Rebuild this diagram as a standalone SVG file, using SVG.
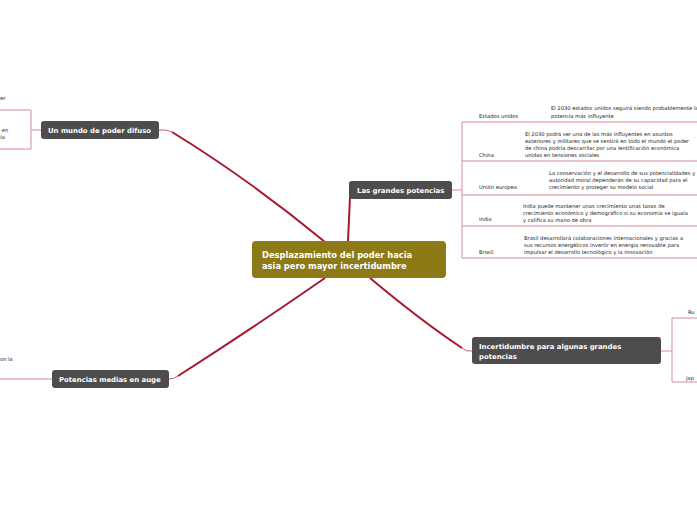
<svg xmlns="http://www.w3.org/2000/svg" width="697" height="520" viewBox="0 0 697 520">
<style>
.n{fill:#4d4d4d}
.nt{fill:#fff;font-family:Verdana,"DejaVu Sans",sans-serif;font-weight:bold;font-size:6.9px}
.s{font-family:Verdana,"DejaVu Sans",sans-serif;font-size:5.2px;fill:#222}
.l{fill:none;stroke:#d98a9a;stroke-width:1}
.m{fill:none;stroke:#a8182f;stroke-width:2}
.t{fill:none;stroke:#b23a50;stroke-width:0.8}
</style>
<rect width="697" height="520" fill="#fff"/>
<g id="connectors">
<path class="m" d="M325 242 Q250 180 172 132"/>
<path class="t" d="M172 132 Q166 129 159 130"/>
<path class="m" d="M348 241 L350 197"/>
<path class="m" d="M325 278 Q250 330 178 376"/>
<path class="t" d="M178 376 Q174 379 169 379"/>
<path class="m" d="M370 278 Q420 320 462 348"/>
<path class="t" d="M462 348 Q466 352 472 351"/>
<path class="l" d="M452 190 H462 M462 122 V258 M462 122 H697 M462 161 H697 M462 195 H697 M462 226 H697 M462 258 H697"/>
<path class="l" d="M41 130 H31 M31 110 V149 M0 110 H31 M0 149 H31"/>
<path class="l" d="M0 379 H52"/>
<path class="l" d="M661 351 H672 M672 318 V382 M672 318 H697 M672 382 H697"/>
</g>
<g id="center">
<rect x="252" y="241" width="194" height="37" rx="4" fill="#8b7a16"/>
<text class="nt" x="262" y="258" style="font-size:8.3px">Desplazamiento del poder hacia</text>
<text class="nt" x="262" y="269" style="font-size:8.3px">asia pero mayor incertidumbre</text>
</g>
<g id="grandes">
<rect class="n" x="349" y="181" width="103" height="18" rx="3"/>
<text class="nt" x="357" y="193">Las grandes potencias</text>
</g>
<g id="mundo">
<rect class="n" x="41" y="121" width="118" height="18" rx="3"/>
<text class="nt" x="48" y="133">Un mundo de poder difuso</text>
</g>
<g id="medias">
<rect class="n" x="52" y="370" width="117" height="18" rx="3"/>
<text class="nt" x="59" y="382">Potencias medias en auge</text>
</g>
<g id="incert">
<rect class="n" x="472" y="337" width="189" height="27" rx="3"/>
<text class="nt" x="479" y="349">Incertidumbre para algunas grandes</text>
<text class="nt" x="479" y="359">potencias</text>
</g>
<g id="sub">
<text class="s" x="479" y="118">Estados unidos</text>
<text class="s" x="551" y="110">El 2030 estados unidos seguirá siendo probablemente la</text>
<text class="s" x="551" y="118">potencia más influyente</text>
<text class="s" x="479" y="157">China</text>
<text class="s" x="525" y="136">El 2030 podrá ser una de las más influyentes en asuntos</text>
<text class="s" x="525" y="143">exteriores y militares que se sentirá en todo el mundo el poder</text>
<text class="s" x="525" y="150">de china podría descarrilar por una lentificación económica</text>
<text class="s" x="525" y="157">unidas en tensiones sociales</text>
<text class="s" x="479" y="189">Unión europea</text>
<text class="s" x="549" y="175">La conservación y el desarrollo de sus potencialidades y</text>
<text class="s" x="549" y="182">autoridad moral dependerán de su capacidad para el</text>
<text class="s" x="549" y="189">crecimiento y proteger su modelo social</text>
<text class="s" x="479" y="221">India</text>
<text class="s" x="523" y="208">India puede mantener unas crecimiento unas tasas de</text>
<text class="s" x="523" y="215">crecimiento económico y demográfico si su economía se iguala</text>
<text class="s" x="523" y="222">y califica su mano de obra</text>
<text class="s" x="479" y="254">Brasil</text>
<text class="s" x="524" y="240">Brasil desarrollará colaboraciones internacionales y gracias a</text>
<text class="s" x="524" y="247">sus recursos energéticos invertir en energía renovable para</text>
<text class="s" x="524" y="254">impulsar el desarrollo tecnológico y la innovación</text>
<text class="s" x="-3" y="100">der</text>
<text class="s" x="-2" y="125">r</text>
<text class="s" x="-3" y="132">a en</text>
<text class="s" x="-3" y="139">gía</text>
<text class="s" x="0" y="361">on la</text>
<text class="s" x="688" y="314">Ru</text>
<text class="s" x="686" y="380">Jap</text>
</g>
</svg>
